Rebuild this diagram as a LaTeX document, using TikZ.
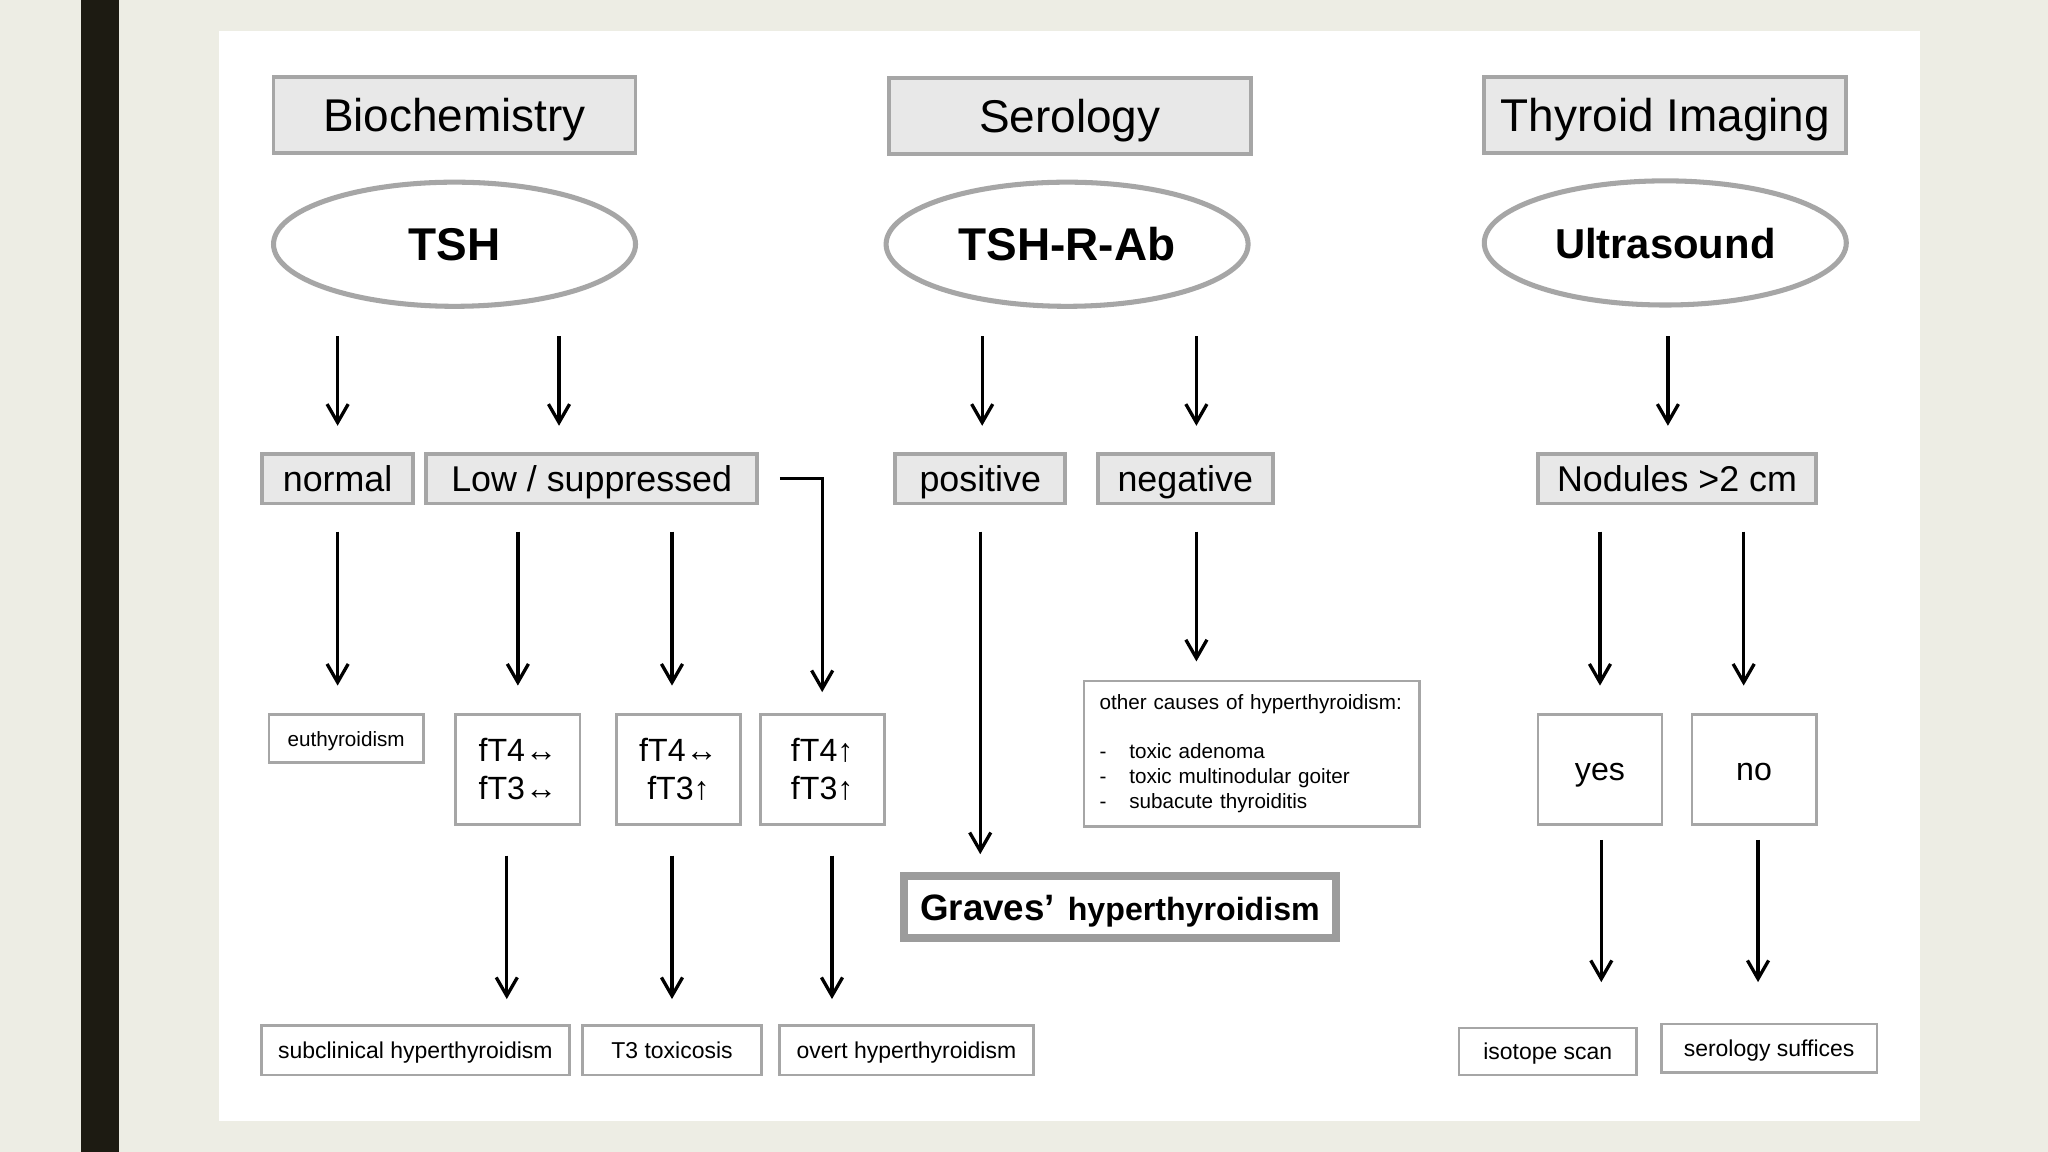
\documentclass[tikz,border=0pt]{standalone}
\usepackage{fontspec}
\setmainfont{Liberation Sans}
\usetikzlibrary{shapes.geometric,arrows.meta,calc}
\definecolor{pagebg}{HTML}{EDEDE4}
\definecolor{barcol}{HTML}{1D1B12}
\definecolor{boxgray}{HTML}{A6A6A6}
\definecolor{gravesgray}{HTML}{9C9C9C}
\definecolor{hdrfill}{HTML}{E8E8E8}

\begin{document}
\begin{tikzpicture}[x=0.01cm, y=-0.01cm,
    oneline/.style={text height=#1, text depth=0pt},
    hdr/.style={draw=boxgray, fill=hdrfill, line width=0.85pt, inner sep=0pt, oneline=7.2pt,
        minimum width=2.77cm, minimum height=0.58cm, font=\fontsize{10}{12}\selectfont},
    oval/.style={ellipse, draw=boxgray, fill=white, line width=1.1pt, inner sep=0pt, oneline=7.2pt,
        minimum width=2.77cm, minimum height=0.95cm, font=\bfseries\fontsize{10}{12}\selectfont},
    lvl/.style={draw=boxgray, fill=hdrfill, line width=0.85pt, inner sep=0pt, oneline=5.6pt,
        minimum height=0.38cm, font=\fontsize{7.8}{9}\selectfont},
    res/.style={draw=boxgray, fill=white, line width=0.6pt, inner sep=0pt, align=center},
    ftbox/.style={res, minimum width=0.95cm, minimum height=0.84cm, font=\fontsize{7}{8.3}\selectfont},
    endbox/.style={res, oneline=3.6pt, minimum height=0.38cm, font=\fontsize{5}{6}\selectfont},
    arr/.style={line width=0.72pt, -{Straight Barb[length=4pt, width=4.6pt]}}]
    \useasboundingbox (0,0) rectangle (1568,882);
    % page and slide
    \fill[pagebg] (0,0) rectangle (1568,882);
    \fill[barcol] (62,0) rectangle (91,882);
    \fill[white] (168,24) rectangle (1470,858);

    % column headers
    \node[hdr] (bio) at (348,88) {Biochemistry};
    \node[hdr] (sero) at (819,89) {Serology};
    \node[hdr] (img) at (1275,88) {Thyroid Imaging};

    % tests
    \node[oval] (tsh) at (348,187) {TSH};
    \node[oval] (trab) at (817,187) {TSH-R-Ab};
    \node[oval, oneline=6.6pt, font=\bfseries\fontsize{9.1}{11}\selectfont] (us) at (1275,186) {Ultrasound};

    % first results
    \node[lvl, minimum width=1.16cm] (normal) at (258.5,366.5) {normal};
    \node[lvl, minimum width=2.53cm] (low) at (453,366.5) {Low / suppressed};
    \node[lvl, minimum width=1.30cm] (pos) at (750.5,366.5) {positive};
    \node[lvl, minimum width=1.34cm] (neg) at (907.5,366.5) {negative};
    \node[lvl, minimum width=2.13cm] (nod) at (1284,366.5) {Nodules >2 cm};

    % second results
    \node[res, oneline=3.25pt, minimum width=1.18cm, minimum height=0.37cm, font=\fontsize{4.5}{5.4}\selectfont] (euthy) at (265,565.5) {euthyroidism};
    \node[ftbox] (ft1) at (396.5,589) {fT4↔\\fT3↔};
    \node[ftbox] (ft2) at (519.5,589) {fT4↔\\fT3↑};
    \node[ftbox] (ft3) at (629.5,589) {fT4↑\\fT3↑};
    \node[res, minimum height=1.11cm, text width=2.33cm, inner xsep=0.12cm, align=left,
        font=\fontsize{4.5}{5.5}\selectfont] (other) at (958.5,577) {other causes of hyperthyroidism:\\[5.2pt]
        -\hspace{1.1em}toxic adenoma\\
        -\hspace{1.1em}toxic multinodular goiter\\
        -\hspace{1.1em}subacute thyroiditis};
    \node[ftbox, oneline=5pt] (yes) at (1225,589) {yes};
    \node[ftbox, oneline=5pt] (no) at (1343,589) {no};
    \node[draw=gravesgray, fill=white, line width=1.7pt, inner sep=0pt, minimum width=3.31cm,
        minimum height=0.47cm, oneline=5.8pt, font=\bfseries] (graves) at (857.5,694.5)
        {{\fontsize{8}{9.6}\selectfont Graves’} {\fontsize{7}{8.4}\selectfont hyperthyroidism}};

    % diagnoses
    \node[endbox, minimum width=2.36cm] (subcl) at (318,804) {subclinical hyperthyroidism};
    \node[endbox, minimum width=1.37cm] (t3) at (514.5,804) {T3 toxicosis};
    \node[endbox, minimum width=1.94cm] (overt) at (694,804) {overt hyperthyroidism};
    \node[endbox, minimum width=1.36cm, minimum height=0.36cm] (iso) at (1185,805) {isotope scan};
    \node[endbox, minimum width=1.65cm, minimum height=0.37cm] (serol) at (1354.5,802.5) {serology suffices};

    % arrows from the tests
    \draw[arr] ($(tsh.south -| normal.north)+(0,21)$) -- ($(normal.north)+(0,-20)$);
    \draw[arr] ($(tsh.south -| low.north)+(-25,21)$) -- ($(low.north)+(-25,-20)$);
    \draw[arr] ($(trab.south -| pos.north)+(1.5,21)$) -- ($(pos.north)+(1.5,-20)$);
    \draw[arr] ($(trab.south -| neg.north)+(8.5,21)$) -- ($(neg.north)+(8.5,-20)$);
    \draw[arr] ($(us.south -| nod.north)+(-7,22)$) -- ($(nod.north)+(-7,-20)$);

    % arrows from the first results
    \draw[arr] ($(normal.south)+(0,20)$) -- ($(euthy.north -| normal.south)+(0,-21)$);
    \draw[arr] ($(low.south -| ft1.north)+(0,20)$) -- ($(ft1.north)+(0,-21)$);
    \draw[arr] ($(low.south -| ft2.north)+(-5,20)$) -- ($(ft2.north)+(-5,-21)$);
    \draw[arr] ($(low.east)+(16,0)$) -| ($(ft3.north)+(0,-16)$);
    \draw[arr] ($(pos.south)+(0,20)$) -- ($(graves.north -| pos.south)+(0,-14)$);
    \draw[arr] ($(neg.south)+(8.5,20)$) -- ($(other.north -| neg.south)+(8.5,-14)$);
    \draw[arr] ($(nod.south -| yes.north)+(0,20)$) -- ($(yes.north)+(0,-21)$);
    \draw[arr] ($(nod.south -| no.north)+(-8,20)$) -- ($(no.north)+(-8,-21)$);

    % arrows to the diagnoses
    \draw[arr] ($(ft1.south)+(-8.5,23)$) -- ($(subcl.north -| ft1.south)+(-8.5,-19)$);
    \draw[arr] ($(ft2.south -| t3.north)+(0,23)$) -- ($(t3.north)+(0,-19)$);
    \draw[arr] ($(ft3.south)+(7.5,23)$) -- ($(overt.north -| ft3.south)+(7.5,-19)$);
    \draw[arr] ($(yes.south)+(1,11)$) -- ($(iso.north -| yes.south)+(1,-34)$);
    \draw[arr] ($(no.south)+(3,11)$) -- ($(serol.north -| no.south)+(3,-31)$);
\end{tikzpicture}
\end{document}
